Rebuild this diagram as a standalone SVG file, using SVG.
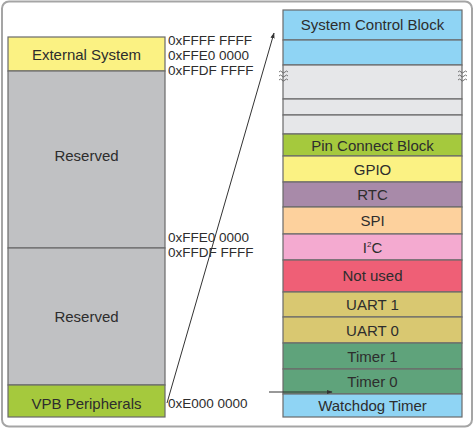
<svg xmlns="http://www.w3.org/2000/svg" width="474" height="428" viewBox="0 0 474 428">
<style>
.c{stroke:#6a6a6a;stroke-width:1.2}
.t{font-family:"Liberation Sans",Arial,sans-serif;font-size:15px;fill:#2d2d2d;text-anchor:middle}
.a{font-family:"Liberation Sans",Arial,sans-serif;font-size:13.5px;fill:#2d2d2d}
.w{fill:none;stroke:#555;stroke-width:0.8}
</style>
<defs>
<marker id="ah" viewBox="0 0 10 10" refX="9" refY="5" markerWidth="6" markerHeight="6" orient="auto">
<path d="M0,1.5 L10,5 L0,8.5 Z" fill="#333"/>
</marker>
</defs>
<rect x="0" y="0" width="474" height="428" fill="#fff"/>
<rect x="2" y="1.5" width="470" height="425" rx="7" fill="#fff" stroke="#a5a5a5" stroke-width="2"/>

<g id="left-map">
<g id="external-system"><rect class="c" x="8" y="37" width="157" height="34" fill="#fbf283"/><text class="t" x="86.5" y="59.5">External System</text></g>
<g id="reserved-1"><rect class="c" x="8" y="71" width="157" height="177" fill="#c0c1c3"/><text class="t" x="86.5" y="160.5">Reserved</text></g>
<g id="reserved-2"><rect class="c" x="8" y="248" width="157" height="137" fill="#c0c1c3"/><text class="t" x="86.5" y="321.5">Reserved</text></g>
<g id="vpb"><rect class="c" x="8" y="385" width="157" height="32" fill="#a5c93d"/><text class="t" x="86.5" y="408.5">VPB Peripherals</text></g>
</g>

<g id="addresses">
<text class="a" x="168" y="45">0xFFFF FFFF</text>
<text class="a" x="168" y="60">0xFFE0 0000</text>
<text class="a" x="168" y="75">0xFFDF FFFF</text>
<text class="a" x="168" y="242">0xFFE0 0000</text>
<text class="a" x="168" y="257">0xFFDF FFFF</text>
<text class="a" x="168" y="408">0xE000 0000</text>
</g>

<g id="right-map">
<g id="scb"><rect class="c" x="283" y="10" width="179" height="30" fill="#8fd4f4"/><text class="t" x="372.5" y="29.5">System Control Block</text></g>
<g id="blue2"><rect class="c" x="283" y="40" width="179" height="25" fill="#8fd4f4"/></g>
<g id="gray1"><rect class="c" x="283" y="65" width="179" height="34" fill="#e6e7e9"/></g>
<g id="gray2"><rect class="c" x="283" y="99" width="179" height="16" fill="#e6e7e9"/></g>
<g id="gray3"><rect class="c" x="283" y="115" width="179" height="19" fill="#e6e7e9"/></g>
<g id="pcb"><rect class="c" x="283" y="134" width="179" height="22" fill="#a5c93d"/><text class="t" x="372.5" y="151">Pin Connect Block</text></g>
<g id="gpio"><rect class="c" x="283" y="156" width="179" height="26" fill="#fbf283"/><text class="t" x="372.5" y="174.5">GPIO</text></g>
<g id="rtc"><rect class="c" x="283" y="182" width="179" height="25" fill="#a88aa9"/><text class="t" x="372.5" y="200">RTC</text></g>
<g id="spi"><rect class="c" x="283" y="207" width="179" height="27" fill="#fdd19d"/><text class="t" x="372.5" y="226">SPI</text></g>
<g id="i2c"><rect class="c" x="283" y="234" width="179" height="26" fill="#f4aad0"/><text class="t" x="372.5" y="252.5">I<tspan font-size="8" dy="-6">2</tspan><tspan dy="6">C</tspan></text></g>
<g id="notused"><rect class="c" x="283" y="260" width="179" height="32" fill="#ef5f76"/><text class="t" x="372.5" y="281">Not used</text></g>
<g id="uart1"><rect class="c" x="283" y="292" width="179" height="25" fill="#d9c871"/><text class="t" x="372.5" y="309.5">UART 1</text></g>
<g id="uart0"><rect class="c" x="283" y="317" width="179" height="26" fill="#d9c871"/><text class="t" x="372.5" y="335.5">UART 0</text></g>
<g id="timer1"><rect class="c" x="283" y="343" width="179" height="26" fill="#5fa37b"/><text class="t" x="372.5" y="361.5">Timer 1</text></g>
<g id="timer0"><rect class="c" x="283" y="369" width="179" height="25" fill="#5fa37b"/><text class="t" x="372.5" y="386.5">Timer 0</text></g>
<g id="wdt"><rect class="c" x="283" y="394" width="179" height="23" fill="#8fd4f4"/><text class="t" x="372.5" y="410.5">Watchdog Timer</text></g>
<g id="breaks">
<path class="w" d="M279,72 q1.5,-2 3,0 t3,0 t3,0 M279,76 q1.5,-2 3,0 t3,0 t3,0 M279,80 q1.5,-2 3,0 t3,0 t3,0"/>
<path class="w" d="M458,72 q1.5,-2 3,0 t3,0 t3,0 M458,76 q1.5,-2 3,0 t3,0 t3,0 M458,80 q1.5,-2 3,0 t3,0 t3,0"/>
</g>
</g>

<g id="connectors">
<line x1="167" y1="403" x2="274" y2="33" stroke="#333" stroke-width="1" marker-end="url(#ah)"/>
<line x1="269" y1="392" x2="332" y2="392" stroke="#333" stroke-width="1" marker-end="url(#ah)"/>
</g>
</svg>
